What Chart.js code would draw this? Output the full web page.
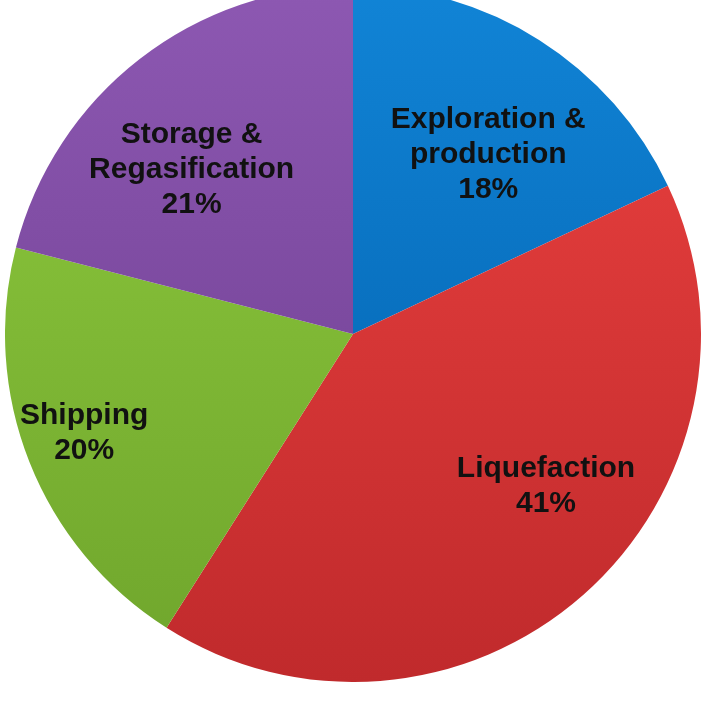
<!DOCTYPE html>
<html>
<head>
<meta charset="utf-8">
<script src="https://cdn.jsdelivr.net/npm/chart.js@4/dist/chart.umd.min.js"></script>
<style>
  html, body { margin: 0; padding: 0; background: #fff; overflow: hidden; }
  body { width: 708px; height: 702px; position: relative; }
  /* the pie is a bit bigger than the window, its top is cut off */
  #box { position: absolute; left: 5px; top: -14px; width: 696px; height: 696px; }
</style>
</head>
<body>
<div id="box"><canvas id="pie"></canvas></div>
<script>
// LNG cost chain shares
const categories = ['Exploration &\nproduction', 'Liquefaction', 'Shipping', 'Storage &\nRegasification'];
const shares = [18, 41, 20, 21];

// light (top) and dark (bottom) shade for each slice
const topColors = ['#1184d6', '#ec4240', '#8fcb3e', '#8d58b2'];
const bottomColors = ['#005ca8', '#c02a2c', '#6fa52c', '#6a3b8c'];

// where each label sits: fraction of radius, and a small angle nudge in degrees
const labelSpots = [
    { r: 0.655, a: 4 },
    { r: 0.70, a: -11 },
    { r: 0.82, a: 2 },
    { r: 0.67, a: -6 }
];

function shade(context) {
    const chart = context.chart;
    const area = chart.chartArea;
    if (!area) return topColors[context.dataIndex];
    const g = chart.ctx.createLinearGradient(0, area.top, 0, area.bottom);
    g.addColorStop(0, topColors[context.dataIndex]);
    g.addColorStop(1, bottomColors[context.dataIndex]);
    return g;
}

// writes the name and the share inside each slice
const sliceLabels = {
    id: 'sliceLabels',
    afterDatasetsDraw(chart) {
        const ctx = chart.ctx;
        const arcs = chart.getDatasetMeta(0).data;
        ctx.save();
        ctx.fillStyle = '#111';
        ctx.font = 'bold 30px "Liberation Sans", Arial, sans-serif';
        ctx.textAlign = 'center';
        ctx.textBaseline = 'middle';
        arcs.forEach((arc, i) => {
            const p = arc.getProps(['x', 'y', 'startAngle', 'endAngle', 'outerRadius'], true);
            const mid = (p.startAngle + p.endAngle) / 2 + labelSpots[i].a * Math.PI / 180;
            const dist = p.outerRadius * labelSpots[i].r;
            const cx = p.x + Math.cos(mid) * dist;
            const cy = p.y + Math.sin(mid) * dist + 4;
            const lines = categories[i].split('\n').concat([shares[i] + '%']);
            const lh = 35;
            lines.forEach((txt, k) => {
                ctx.fillText(txt, cx, cy + (k - (lines.length - 1) / 2) * lh);
            });
        });
        ctx.restore();
    }
};

new Chart(document.getElementById('pie'), {
    type: 'pie',
    data: {
        labels: categories.map(c => c.replace('\n', ' ')),
        datasets: [{
            data: shares,
            backgroundColor: shade,
            borderWidth: 0
        }]
    },
    options: {
        responsive: true,
        maintainAspectRatio: false,
        animation: false,
        layout: { padding: 0 },
        plugins: {
            legend: { display: false },
            tooltip: { enabled: false }
        }
    },
    plugins: [sliceLabels]
});
</script>
</body>
</html>
